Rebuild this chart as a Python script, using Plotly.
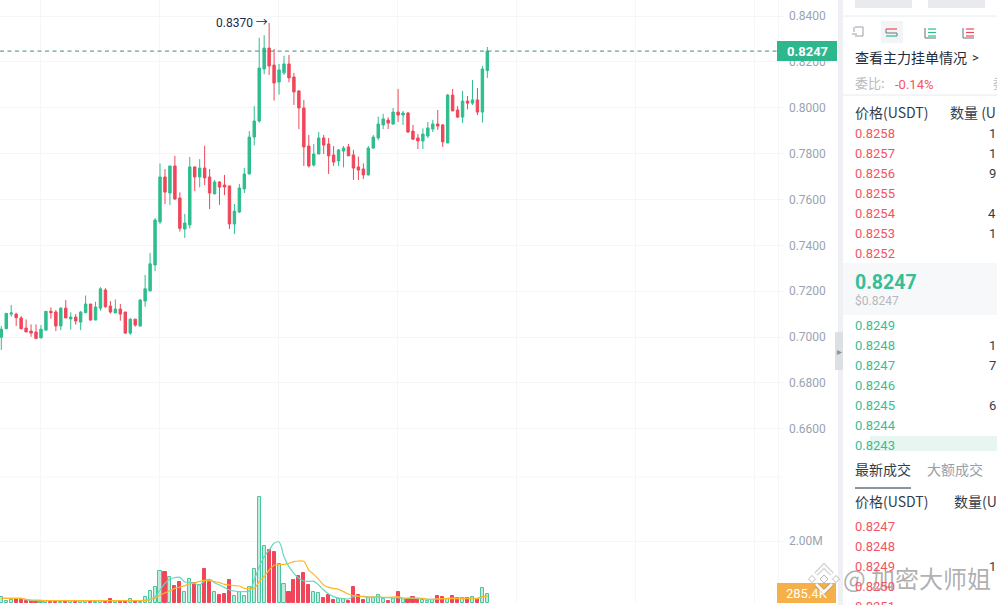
"""Recreates a USDT pair candlestick screen with its order book panel."""

import plotly.graph_objects as go

W, H = 997, 605
GREEN = "#2EBD8F"
RED = "#F0465A"
TEXT_RED = "#F2555F"
TEXT_GREEN = "#37BE96"
GRID = "#F5F6F8"
AXIS_TEXT = "#9AA3AF"
FONT = "Roboto, 'Noto Sans CJK SC', sans-serif"
CJK = "'Noto Sans CJK SC', Roboto, sans-serif"

opens = [
    .6999, .7036, .7100, .7100, .7083, .7039, .7026, .7022, .6996, .7030,
    .7112, .7109, .7048, .7126, .7079, .7087, .7065, .7106, .7144, .7074,
    .7126, .7205, .7135, .7105, .7122, .7109, .7017, .7078, .7048, .7157,
    .7201, .7314, .7502, .7698, .7628, .7746, .7606, .7471, .7489, .7742,
    .7698, .7737, .7698, .7624, .7676, .7663, .7659, .7493, .7545, .7646,
    .7711, .7872, .7942, .8169, .8260, .8186, .8112, .8152, .8191, .8134,
    .8073, .7999, .7833, .7750, .7798, .7868, .7842, .7794, .7768, .7811,
    .7829, .7794, .7742, .7733, .7707, .7824, .7868, .7925, .7946, .7929,
    .7981, .7968, .7977, .7898, .7868, .7855, .7877, .7907, .7929, .7925,
    .7846, .8055, .7990, .7959, .8029, .8020, .8034, .7981, .8162,
]
closes = [
    .7034, .7103, .7105, .7084, .7036, .7022, .7017, .6994, .7034, .7112,
    .7106, .7048, .7126, .7083, .7087, .7070, .7109, .7144, .7074, .7131,
    .7210, .7132, .7109, .7122, .7100, .7017, .7078, .7052, .7161, .7210,
    .7319, .7510, .7698, .7632, .7746, .7602, .7474, .7497, .7742, .7698,
    .7737, .7694, .7628, .7676, .7654, .7654, .7493, .7549, .7650, .7711,
    .7872, .7942, .8173, .8260, .8182, .8108, .8165, .8191, .8130, .8069,
    .7999, .7829, .7746, .7798, .7868, .7837, .7790, .7763, .7816, .7824,
    .7790, .7737, .7728, .7707, .7824, .7872, .7929, .7951, .7933, .7981,
    .7968, .7977, .7894, .7863, .7855, .7885, .7912, .7929, .7920, .7851,
    .8055, .7986, .7959, .8029, .8020, .8034, .7981, .8169, .8247,
]
highs = [
    .7048, .7105, .7140, .7106, .7092, .7077, .7055, .7055, .7052, .7112,
    .7129, .7118, .7129, .7161, .7108, .7100, .7113, .7181, .7144, .7154,
    .7217, .7213, .7157, .7164, .7144, .7109, .7081, .7078, .7166, .7271,
    .7367, .7519, .7757, .7733, .7746, .7790, .7631, .7537, .7785, .7744,
    .7776, .7834, .7733, .7685, .7680, .7707, .7659, .7580, .7668, .7737,
    .7898, .8007, .8305, .8316, .8370, .8256, .8191, .8226, .8230, .8152,
    .8077, .8034, .7881, .7842, .7894, .7881, .7868, .7833, .7820, .7833,
    .7842, .7816, .7787, .7757, .7833, .7881, .7961, .7973, .7958, .7999,
    .8082, .7986, .7981, .7925, .7885, .7910, .7938, .7946, .7990, .7929,
    .8060, .8082, .8007, .8073, .8051, .8121, .8086, .8182, .8265,
]
lows = [
    .6944, .7036, .7089, .7048, .7034, .7022, .7001, .6990, .6996, .7030,
    .7080, .7026, .7030, .7083, .7032, .7054, .7030, .7106, .7071, .7074,
    .7115, .7128, .7102, .7105, .7071, .7014, .7009, .7045, .7045, .7132,
    .7201, .7287, .7492, .7580, .7576, .7598, .7460, .7432, .7473, .7637,
    .7653, .7663, .7558, .7624, .7576, .7619, .7471, .7449, .7541, .7628,
    .7711, .7836, .7935, .8146, .8143, .8031, .8057, .8143, .8111, .8012,
    .7907, .7746, .7739, .7743, .7798, .7798, .7711, .7746, .7746, .7740,
    .7790, .7685, .7685, .7689, .7704, .7821, .7859, .7907, .7907, .7925,
    .7938, .7925, .7890, .7859, .7820, .7820, .7868, .7894, .7903, .7829,
    .7846, .7986, .7955, .7933, .7993, .8012, .7968, .7935, .8130,
]
# volumes in thousands
volumes = [
    204, 54, 86, 129, 97, 65, 65, 65, 43, 54,
    43, 43, 43, 65, 65, 43, 54, 65, 43, 43,
    75, 75, 129, 65, 65, 75, 118, 75, 43, 183,
    376, 505, 1021, 1000, 828, 548, 677, 344, 763, 656,
    591, 1097, 677, 344, 258, 290, 742, 226, 344, 226,
    527, 1086, 3408, 1828, 1710, 1645, 1247, 602, 355, 742,
    871, 957, 581, 344, 312, 161, 258, 97, 118, 140,
    75, 516, 258, 97, 161, 161, 247, 118, 65, 140,
    355, 118, 140, 183, 140, 97, 75, 97, 215, 183,
    129, 215, 161, 161, 151, 183, 140, 473, 285.4,
]
vol_ma5 = [
    151, 151, 151, 151, 151, 108, 86, 75, 75, 75,
    75, 75, 75, 75, 75, 75, 75, 75, 75, 75,
    75, 75, 75, 75, 75, 75, 75, 75, 75, 86,
    129, 204, 419, 634, 774, 817, 828, 677, 667, 624,
    581, 720, 763, 656, 581, 505, 419, 387, 366, 366,
    387, 742, 1172, 1494, 1709, 1924, 1967, 1494, 1172, 957,
    796, 710, 699, 699, 581, 419, 290, 204, 161, 140,
    129, 204, 215, 215, 194, 194, 204, 172, 172, 161,
    172, 140, 151, 151, 140, 140, 118, 118, 129, 140,
    151, 161, 161, 161, 151, 151, 151, 204, 226,
]
vol_ma10 = [
    151, 151, 151, 151, 151, 118, 97, 97, 86, 75,
    75, 75, 75, 75, 75, 75, 75, 75, 75, 75,
    75, 75, 75, 75, 75, 75, 75, 75, 75, 75,
    108, 151, 258, 323, 398, 473, 516, 559, 613, 645,
    699, 731, 720, 688, 656, 602, 581, 559, 548, 473,
    462, 473, 688, 849, 1064, 1215, 1236, 1247, 1279, 1333,
    1355, 1344, 1064, 925, 763, 581, 505, 473, 441, 366,
    290, 237, 215, 204, 194, 194, 183, 183, 183, 194,
    204, 161, 161, 161, 161, 151, 118, 118, 140, 140,
    140, 140, 140, 140, 140, 140, 140, 204, 215,
]
candles = list(range(len(closes)))
time_grid = [7.85, 31.85, 55.85, 79.85, 103.85, 127.85, 151.85]
price_ticks = [0.66, 0.68, 0.70, 0.72, 0.74, 0.76, 0.78, 0.80, 0.82, 0.84]
price_labels = ["0.6600", "0.6800", "0.7000", "0.7200", "0.7400", "0.7600",
                "0.7800", "0.8000", "0.8200", "0.8400"]
ask_prices = ["0.8258", "0.8257", "0.8256", "0.8255", "0.8254", "0.8253", "0.8252"]
ask_sizes = ["1", "1", "9", "", "4", "1", ""]
bid_prices = ["0.8249", "0.8248", "0.8247", "0.8246", "0.8245", "0.8244", "0.8243"]
bid_sizes = ["", "1", "7", "", "6", "", ""]
trade_prices = ["0.8247", "0.8248", "0.8249", "0.8250", "0.8251"]
trade_sizes = ["", "", "1", "", ""]


def px(x):
    return x / W


def py(y):
    return 1 - y / H


def rect(x0, y0, x1, y1, color):
    return dict(type="rect", xref="paper", yref="paper", x0=px(x0), x1=px(x1),
                y0=py(y0), y1=py(y1), fillcolor=color, line_width=0, layer="above")


def seg(x0, y0, x1, y1, color, width=1.2):
    return dict(type="line", xref="paper", yref="paper", x0=px(x0), x1=px(x1),
                y0=py(y0), y1=py(y1), line=dict(color=color, width=width), layer="above")


def poly(pts, color, width, fill=None, closed=False):
    path = "M " + " L ".join(f"{px(a):.5f},{py(b):.5f}" for a, b in pts) + (" Z" if closed else "")
    return dict(type="path", xref="paper", yref="paper", path=path, fillcolor=fill,
                line=dict(color=color, width=width), layer="above")


def diamond(cx, cy, r, fill, edge="rgba(140,140,140,0.6)"):
    pts = [(cx, cy - r), (cx + r, cy), (cx, cy + r), (cx - r, cy)]
    return poly(pts, edge, 1, fill, closed=True)


def chevron(pts):
    return [poly(pts, "rgba(140,140,140,0.55)", 4.5),
            poly(pts, "rgba(255,255,255,0.92)", 2.8)]


def label(x, y, text, color, size=13, anchor="left", family=FONT, bold=False):
    # the CJK font sits about a pixel lower than the reference text
    y = y - 1 if family == CJK else y
    x = x - 1 if anchor == "left" else x
    return dict(xref="paper", yref="paper", x=px(x), y=py(y), text=f"<b>{text}</b>" if bold else text,
                showarrow=False, xanchor=anchor, yanchor="middle", borderpad=0,
                font=dict(family=family, size=size, color=color))


fig = go.Figure()
fig.add_trace(go.Candlestick(
    x=candles, open=opens, high=highs, low=lows, close=closes,
    increasing=dict(line=dict(color=GREEN, width=1), fillcolor=GREEN),
    decreasing=dict(line=dict(color=RED, width=1), fillcolor=RED),
    whiskerwidth=0, showlegend=False, yaxis="y",
))
fig.add_trace(go.Bar(
    x=candles, y=volumes, yaxis="y2", width=0.62, showlegend=False,
    marker=dict(
        color=["rgba(46,189,143,0.3)" if c >= o else RED for o, c in zip(opens, closes)],
        line=dict(color=["#4CC4A0" if c >= o else RED for o, c in zip(opens, closes)], width=1),
    ),
))
fig.add_trace(go.Scatter(x=candles, y=vol_ma5, yaxis="y2", mode="lines", showlegend=False,
                         line=dict(color="#63D8C0", width=1.2, shape="spline")))
fig.add_trace(go.Scatter(x=candles, y=vol_ma10, yaxis="y2", mode="lines", showlegend=False,
                         line=dict(color="#FFB627", width=1.2, shape="spline")))

shapes = [
    # current price line
    dict(type="line", xref="paper", yref="y", x0=0, x1=px(777), y0=closes[-1], y1=closes[-1],
         line=dict(color="#3C8F78", width=1, dash="4px,3.5px"), layer="above"),
    seg(0, 477, 782, 477, GRID, 1),
    # side panel
    rect(838, 0, 843, H, "#EEF0F4"),
    rect(835, 332, 843, 370, "#DCDFE3"),
    rect(843, 263, W, 315, "#F7F8FA"),
    rect(870, 436, W, 451, "#E7F6F1"),
    rect(855, 0, 912, 8, "#E8EAED"),
    rect(928, 0, 985, 8, "#E8EAED"),
    seg(843, 16, W, 16, "#E8EAED", 1),
    seg(843, 95, W, 95, "#E8EAED", 1),
    seg(855, 488, 911, 488, "#1B2A41", 1),
    # value tags
    rect(777, 41, 837, 61, "#2DB78D"),
    rect(777, 583, 836, 603, "#F5B04A"),
    # order book icons
    rect(881, 21, 903, 43, "#F3F4F6"),
    seg(855, 27, 863, 27, "#A9AEB8"), seg(863, 27, 863, 36, "#A9AEB8"),
    seg(863, 36, 855, 36, "#A9AEB8"), seg(854, 27, 854, 32, "#A9AEB8"),
    seg(852, 34, 857, 34, "#A9AEB8"),
    seg(886, 29, 897, 29, RED), seg(886, 33, 897, 33, "#7F8794"),
    seg(886, 36, 897, 36, GREEN), seg(886, 29, 886, 33, "#7F8794"), seg(897, 33, 897, 36, "#7F8794"),
    seg(925, 28, 925, 38, "#7F8794"), seg(925, 38, 936, 38, "#7F8794"),
    seg(928, 29, 936, 29, GREEN), seg(928, 32.5, 936, 32.5, GREEN), seg(928, 36, 936, 36, GREEN),
    seg(963, 28, 963, 38, "#7F8794"), seg(963, 38, 974, 38, "#7F8794"),
    seg(966, 29, 974, 29, RED), seg(966, 32.5, 974, 32.5, RED), seg(966, 36, 974, 36, RED),
    # watermark logo
    *chevron([(816, 574), (824, 566), (832, 574)]),
    *chevron([(816, 584), (824, 592), (832, 584)]),
    diamond(812, 579, 3.5, "rgba(255,255,255,0.92)"),
    diamond(836, 579, 3.5, "rgba(255,255,255,0.92)"),
    diamond(824, 579, 4, "rgba(255,255,255,0.92)"),
]

annotations = [
    dict(x=54, y=highs[54], xref="x", yref="y", text="0.8370 →", showarrow=False, xanchor="right",
         xshift=1, font=dict(family=FONT, size=12, color="#1B2A4A")),
    label(807, 51, "0.8247", "#FFFFFF", 13, "center", bold=True),
    label(807, 593, "285.4K", "#FFFFFF", 13, "center"),
    label(839, 351, "▸", "#8C929C", 10, "center"),
    label(855, 58, "查看主力挂单情况", "#222B3A", 14, family=CJK),
    label(972, 58, ">", "#222B3A", 13),
    label(855, 84, "委比:", "#B8BBC0", 13, family=CJK),
    label(895, 84, "-0.14%", TEXT_RED, 13),
    label(993, 84, "委", "#B8BBC0", 13, family=CJK),
    label(855, 113, "价格(USDT)", "#333C4C", 14, family=CJK),
    label(950, 113, "数量 (U", "#333C4C", 14, family=CJK),
    label(855, 282, "0.8247", TEXT_GREEN, 19.5, bold=True),
    label(855, 301, "$0.8247", "#B4B8BF", 12),
    label(855, 470, "最新成交", "#333C4C", 14, family=CJK),
    label(927, 470, "大额成交", "#9A9EA6", 14, family=CJK),
    label(855, 502, "价格(USDT)", "#333C4C", 14, family=CJK),
    label(954, 502, "数量(U", "#333C4C", 14, family=CJK),
    label(843, 578, "@ 加密大师姐", "rgba(125,125,125,0.62)", 24, family=CJK),
]
for i, (price, size) in enumerate(zip(ask_prices, ask_sizes)):
    annotations.append(label(855, 133 + 20 * i, price, TEXT_RED))
    if size:
        annotations.append(label(997, 133 + 20 * i, size, "#333C4C", anchor="right"))
for i, (price, size) in enumerate(zip(bid_prices, bid_sizes)):
    annotations.append(label(855, 325 + 20 * i, price, TEXT_GREEN))
    if size:
        annotations.append(label(997, 325 + 20 * i, size, "#333C4C", anchor="right"))
for i, (price, size) in enumerate(zip(trade_prices, trade_sizes)):
    annotations.append(label(855, 526 + 20 * i, price, TEXT_RED))
    if size:
        annotations.append(label(997, 526 + 20 * i, size, "#333C4C", anchor="right"))

fig.update_layout(
    width=W, height=H, autosize=False,
    margin=dict(l=0, r=0, t=0, b=0),
    paper_bgcolor="white", plot_bgcolor="white",
    bargap=0,
    xaxis=dict(
        domain=[0, px(777.5)], range=[-0.262, 156.5], anchor="y2",
        tickmode="array", tickvals=time_grid, showticklabels=False,
        showgrid=True, gridcolor=GRID, gridwidth=1, zeroline=False, ticks="",
        rangeslider=dict(visible=False),
    ),
    yaxis=dict(
        domain=[py(477), 1], range=[0.63895, 0.84698], side="right", anchor="x",
        tickmode="array", tickvals=price_ticks, ticktext=price_labels,
        tickfont=dict(family=FONT, size=12, color=AXIS_TEXT),
        ticks="outside", ticklen=5, tickcolor=GRID, ticklabelstandoff=3,
        showgrid=True, gridcolor=GRID, zeroline=False,
        showline=True, linecolor=GRID,
    ),
    yaxis2=dict(
        domain=[py(603), py(477)], range=[0, 4064.5], side="right", anchor="x",
        tickmode="array", tickvals=[2000], ticktext=["2.00M"],
        tickfont=dict(family=FONT, size=12, color=AXIS_TEXT),
        ticks="outside", ticklen=5, tickcolor=GRID, ticklabelstandoff=3,
        showgrid=True, gridcolor=GRID, zeroline=False,
        showline=True, linecolor=GRID,
    ),
    shapes=shapes, annotations=annotations,
)

fig.write_html("out.html", config=dict(displayModeBar=False),
               post_script="document.body.style.margin='0';")
